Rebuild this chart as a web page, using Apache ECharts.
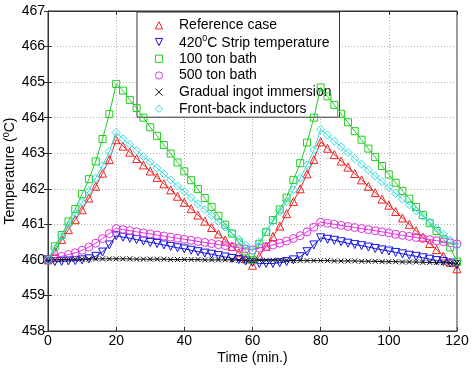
<!DOCTYPE html>
<html><head><meta charset="utf-8">
<script src="https://cdn.jsdelivr.net/npm/echarts@6/dist/echarts.min.js"></script>
<style>html,body{margin:0;padding:0;background:#fff}#c{width:474px;height:368px}</style>
</head><body><div id="c"></div>
<script>
const time = [0,2,4,6,8,10,12,14,16,18,20,22,24,26,28,30,32,34,36,38,40,42,44,46,48,50,52,54,56,58,60,62,64,66,68,70,72,74,76,78,80,82,84,86,88,90,92,94,96,98,100,102,104,106,108,110,112,114,116,118,120];
const refCase = [460.0,460.24,460.57,460.85,461.13,461.41,461.74,462.07,462.44,462.82,463.38,463.2,463.03,462.85,462.67,462.5,462.32,462.14,461.97,461.79,461.62,461.44,461.26,461.09,460.91,460.73,460.56,460.38,460.2,460.03,459.85,460.1,460.38,460.66,460.95,461.3,461.64,462.0,462.42,462.82,463.32,463.14,462.96,462.78,462.61,462.43,462.25,462.07,461.89,461.71,461.54,461.36,461.18,461.0,460.82,460.64,460.46,460.29,460.11,459.93,459.75];
const stripTemp = [460.0,459.95,459.96,459.97,459.98,460.0,460.03,460.1,460.22,460.42,460.68,460.64,460.61,460.57,460.53,460.49,460.46,460.42,460.38,460.34,460.31,460.27,460.23,460.19,460.16,460.12,460.08,460.04,460.01,459.97,459.93,459.9,459.9,459.9,459.92,459.95,460.0,460.09,460.23,460.42,460.62,460.58,460.55,460.51,460.47,460.43,460.4,460.36,460.32,460.28,460.25,460.21,460.17,460.13,460.1,460.06,460.02,459.98,459.95,459.91,459.87];
const ton100 = [460.0,460.38,460.7,461.08,461.43,461.85,462.27,462.77,463.4,464.1,464.95,464.76,464.5,464.27,464.0,463.73,463.49,463.23,462.99,462.74,462.49,462.24,461.99,461.74,461.49,461.24,460.99,460.74,460.49,460.24,460.0,460.45,460.78,461.12,461.42,461.75,462.25,462.72,463.3,464.0,464.85,464.6,464.36,464.11,463.87,463.62,463.38,463.13,462.89,462.64,462.4,462.17,461.94,461.72,461.49,461.26,461.03,460.81,460.58,460.35,459.95];
const ton500 = [460.0,460.06,460.1,460.15,460.2,460.27,460.36,460.47,460.6,460.74,460.88,460.85,460.82,460.79,460.76,460.73,460.7,460.67,460.64,460.61,460.58,460.55,460.52,460.49,460.46,460.43,460.4,460.37,460.34,460.31,460.28,460.33,460.37,460.42,460.47,460.53,460.6,460.68,460.79,460.92,461.06,461.03,461.0,460.97,460.94,460.91,460.88,460.85,460.82,460.79,460.76,460.72,460.69,460.66,460.63,460.6,460.57,460.54,460.51,460.48,460.45];
const gradual = [460.0,460.0,460.01,460.01,460.02,460.02,460.02,460.03,460.03,460.03,460.03,460.03,460.03,460.02,460.02,460.02,460.02,460.02,460.01,460.01,460.01,460.01,460.01,460.0,460.0,460.0,460.0,460.0,459.99,459.99,459.99,459.99,459.99,459.99,459.99,459.99,459.98,459.98,459.98,459.98,459.98,459.98,459.97,459.97,459.97,459.97,459.96,459.96,459.96,459.95,459.95,459.95,459.94,459.94,459.94,459.93,459.93,459.92,459.92,459.91,459.91];
const frontBack = [460.0,460.32,460.65,460.98,461.3,461.62,461.95,462.3,462.65,463.05,463.58,463.41,463.25,463.08,462.91,462.75,462.58,462.42,462.25,462.08,461.92,461.75,461.58,461.42,461.25,461.08,460.92,460.75,460.58,460.42,460.25,460.5,460.8,461.08,461.36,461.64,461.97,462.3,462.67,463.09,463.67,463.51,463.34,463.18,463.02,462.85,462.69,462.53,462.36,462.2,462.04,461.87,461.71,461.55,461.38,461.22,461.06,460.89,460.73,460.56,460.4];

const seriesNames = ['Reference case','420\u2070C Strip temperature','100 ton bath','500 ton bath','Gradual ingot immersion','Front-back inductors'];
const legendLabels = ['{n|Reference case}','{n2|420}{sup|0}{n2|C Strip temperature}','{n|100 ton bath}','{n|500 ton bath}','{n|Gradual ingot immersion}','{n|Front-back inductors}'];
const seriesValues = [refCase, stripTemp, ton100, ton500, gradual, frontBack];
const xAxisTitle = 'Time (min.)';
const yAxisTitle = '{n|Temperature (}{sup|0}{n|C)}';

const colors = ['#f02222','#1414e0','#22cc22','#e033e0','#111111','#33dddd'];
const symbols = ['triangle','path://M0,0L10,0L5,8.66Z','rect','circle','path://M0,0L8,8M8,0L0,8','diamond'];
const symSizes = [8,8,7,8,5,8];
const FONT = "'Liberation Sans', Arial, Helvetica, sans-serif";

const series = seriesNames.map((nm, i) => ({
  name: nm,
  type: 'line',
  data: time.map((t, k) => [t, seriesValues[i][k]]),
  symbol: symbols[i],
  symbolSize: symSizes[i],
  showSymbol: true,
  lineStyle: { color: colors[i], width: 1 },
  itemStyle: { color: 'rgba(0,0,0,0)', borderColor: colors[i], borderWidth: 1 },
  emphasis: { disabled: true },
  z: 2 + i
}));

const chart = echarts.init(document.getElementById('c'), null, { renderer: 'canvas' });
chart.setOption({
  animation: false,
  backgroundColor: '#fff',
  textStyle: { fontFamily: FONT },
  grid: { left: 48, right: 17, top: 11, bottom: 37, containLabel: false, outerBoundsMode: 'none', show: true, borderColor: '#333', borderWidth: 1, backgroundColor: 'transparent' },
  legend: {
    orient: 'vertical', left: 137, top: 12,
    padding: [5, 8, 0, 6],
    itemGap: 0, itemWidth: 30, itemHeight: 9,
    backgroundColor: '#fff', borderColor: '#333', borderWidth: 1,
    lineStyle: { opacity: 0 },
    itemStyle: { borderWidth: 1 },
    selectedMode: false,
    formatter: function (name) { return legendLabels[seriesNames.indexOf(name)]; },
    textStyle: {
      fontFamily: FONT, fontSize: 14, lineHeight: 16.7, color: '#000',
      rich: {
        n: { fontFamily: FONT, fontSize: 14, lineHeight: 16.7, color: '#000' },
        n2: { fontFamily: FONT, fontSize: 14, lineHeight: 16.7, padding: [2.7, 0, 0, 0], verticalAlign: 'bottom', color: '#000' },
        sup: { fontFamily: FONT, fontSize: 9, lineHeight: 15, verticalAlign: 'top', color: '#000' }
      }
    },
    data: seriesNames
  },
  xAxis: [{
    type: 'value', min: 0, max: 120, interval: 20,
    name: xAxisTitle, nameLocation: 'middle', nameGap: 20, nameMoveOverlap: false,
    nameTextStyle: { fontFamily: FONT, fontSize: 14, color: '#000' },
    axisLine: { show: true, lineStyle: { color: '#333', width: 1 } },
    axisTick: { show: true, inside: true, length: 4, lineStyle: { color: '#333' } },
    axisLabel: { fontFamily: FONT, fontSize: 14, color: '#000', margin: 3 },
    splitLine: { show: true, lineStyle: { color: '#b0b0b0', type: [1, 2], width: 1 } }
  }, {
    type: 'value', min: 0, max: 120, interval: 20, position: 'top',
    axisLine: { show: true, lineStyle: { color: '#333', width: 1 } },
    axisTick: { show: true, inside: true, length: 4, lineStyle: { color: '#333' } },
    axisLabel: { show: false }, splitLine: { show: false }
  }],
  yAxis: [{
    type: 'value', min: 458, max: 467, interval: 1,
    name: yAxisTitle, nameLocation: 'middle', nameGap: 29, nameRotate: 90, nameMoveOverlap: false,
    nameTextStyle: {
      fontFamily: FONT, fontSize: 14, color: '#000',
      rich: {
        n: { fontFamily: FONT, fontSize: 14, lineHeight: 17, color: '#000' },
        sup: { fontFamily: FONT, fontSize: 9, lineHeight: 12, verticalAlign: 'top', color: '#000' }
      }
    },
    axisLine: { show: true, lineStyle: { color: '#333', width: 1 } },
    axisTick: { show: true, inside: true, length: 4, lineStyle: { color: '#333' } },
    axisLabel: { fontFamily: FONT, fontSize: 14, color: '#000', margin: 3 },
    splitLine: { show: true, lineStyle: { color: '#b0b0b0', type: [1, 2], width: 1 } }
  }, {
    type: 'value', min: 458, max: 467, interval: 1, position: 'right',
    axisLine: { show: true, lineStyle: { color: '#333', width: 1 } },
    axisTick: { show: true, inside: true, length: 4, lineStyle: { color: '#333' } },
    axisLabel: { show: false }, splitLine: { show: false }
  }],
  series: series
});
</script></body></html>
